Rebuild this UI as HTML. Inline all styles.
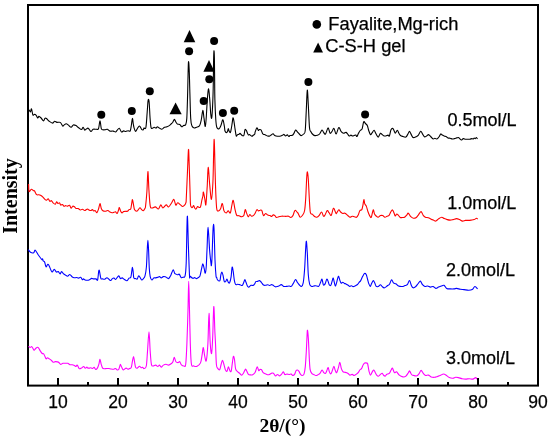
<!DOCTYPE html>
<html><head><meta charset="utf-8"><style>
html,body{margin:0;padding:0;background:#fff;}
body{width:550px;height:438px;overflow:hidden;position:relative;}
svg{position:absolute;left:0;top:0;}
.sans{font-family:"Liberation Sans",Arial,sans-serif;}
.serif{font-family:"Liberation Serif","Times New Roman",serif;font-weight:bold;}
</style></head><body>
<svg width="550" height="438" viewBox="0 0 550 438">
<rect x="28" y="5" width="510" height="380.6" fill="none" stroke="#000" stroke-width="2"/>
<path d="M58.0 385.6V378.0 M88.0 385.6V382.0 M118.0 385.6V378.0 M148.0 385.6V382.0 M178.0 385.6V378.0 M208.0 385.6V382.0 M238.0 385.6V378.0 M268.0 385.6V382.0 M298.0 385.6V378.0 M328.0 385.6V382.0 M358.0 385.6V378.0 M388.0 385.6V382.0 M418.0 385.6V378.0 M448.0 385.6V382.0 M478.0 385.6V378.0 M508.0 385.6V382.0" stroke="#000" stroke-width="2" fill="none"/>
<path d="M29.10 109.80C29.32 110.17 30.00 112.15 30.40 112.00C30.80 111.85 31.08 108.40 31.50 108.90C31.92 109.40 32.40 114.12 32.90 115.00C33.40 115.88 33.95 114.15 34.50 114.20C35.05 114.25 35.65 114.67 36.20 115.30C36.75 115.93 37.35 117.82 37.80 118.00C38.25 118.18 38.35 116.40 38.90 116.40C39.45 116.40 40.33 117.23 41.10 118.00C41.87 118.77 42.87 120.95 43.50 121.00C44.13 121.05 44.40 118.72 44.90 118.30C45.40 117.88 45.77 118.00 46.50 118.50C47.23 119.00 48.30 120.53 49.30 121.30C50.30 122.07 51.60 123.10 52.50 123.10C53.40 123.10 53.97 121.42 54.70 121.30C55.43 121.18 55.98 122.22 56.90 122.40C57.82 122.58 59.23 121.80 60.20 122.40C61.17 123.00 62.07 125.55 62.70 126.00C63.33 126.45 63.42 125.47 64.00 125.10C64.58 124.73 65.47 123.80 66.20 123.80C66.93 123.80 67.58 124.52 68.40 125.10C69.22 125.68 70.28 127.33 71.10 127.30C71.92 127.27 72.48 125.18 73.30 124.90C74.12 124.62 75.10 125.12 76.00 125.60C76.90 126.08 77.78 127.15 78.70 127.80C79.62 128.45 80.77 129.58 81.50 129.50C82.23 129.42 82.57 127.22 83.10 127.30C83.63 127.38 84.22 129.67 84.70 130.00C85.18 130.33 85.42 129.60 86.00 129.30C86.58 129.00 87.38 127.83 88.20 128.20C89.02 128.57 90.08 131.32 90.90 131.50C91.72 131.68 92.18 129.67 93.10 129.30C94.02 128.93 95.50 129.40 96.40 129.30C97.30 129.20 97.90 130.10 98.50 128.70C99.10 127.30 99.53 120.90 100.00 120.90C100.47 120.90 100.82 127.22 101.30 128.70C101.78 130.18 102.27 129.62 102.90 129.80C103.53 129.98 104.37 129.88 105.10 129.80C105.83 129.72 106.48 129.08 107.30 129.30C108.12 129.52 109.00 130.80 110.00 131.10C111.00 131.40 112.38 130.95 113.30 131.10C114.22 131.25 114.87 132.12 115.50 132.00C116.13 131.88 116.47 131.03 117.10 130.40C117.73 129.77 118.57 127.93 119.30 128.20C120.03 128.47 120.78 131.55 121.50 132.00C122.22 132.45 122.88 130.98 123.60 130.90C124.32 130.82 125.07 131.53 125.80 131.50C126.53 131.47 127.27 130.80 128.00 130.70C128.73 130.60 129.63 131.85 130.20 130.90C130.77 129.95 131.03 127.08 131.40 125.00C131.77 122.92 132.08 118.57 132.40 118.40C132.72 118.23 133.03 122.47 133.30 124.00C133.57 125.53 133.62 126.35 134.00 127.60C134.38 128.85 135.05 131.32 135.60 131.50C136.15 131.68 136.65 129.62 137.30 128.70C137.95 127.78 138.78 125.90 139.50 126.00C140.22 126.10 140.97 128.67 141.60 129.30C142.23 129.93 142.90 130.02 143.30 129.80C143.70 129.58 143.57 128.42 144.00 128.00C144.43 127.58 145.37 129.97 145.90 127.30C146.43 124.63 146.83 116.47 147.20 112.00C147.57 107.53 147.78 102.22 148.10 100.50C148.42 98.78 148.77 98.72 149.10 101.70C149.43 104.68 149.78 114.13 150.10 118.40C150.42 122.67 150.63 125.65 151.00 127.30C151.37 128.95 151.77 128.30 152.30 128.30C152.83 128.30 153.57 127.35 154.20 127.30C154.83 127.25 155.57 128.10 156.10 128.00C156.63 127.90 156.87 126.70 157.40 126.70C157.93 126.70 158.55 127.58 159.30 128.00C160.05 128.42 161.03 129.32 161.90 129.20C162.77 129.08 163.65 127.72 164.50 127.30C165.35 126.88 166.15 127.02 167.00 126.70C167.85 126.38 168.85 125.93 169.60 125.40C170.35 124.87 170.97 124.03 171.50 123.50C172.03 122.97 172.32 122.88 172.80 122.20C173.28 121.52 173.87 119.40 174.40 119.40C174.93 119.40 175.48 121.42 176.00 122.20C176.52 122.98 176.87 123.72 177.50 124.10C178.13 124.48 179.10 124.07 179.80 124.50C180.50 124.93 181.07 126.55 181.70 126.70C182.33 126.85 182.95 125.72 183.60 125.40C184.25 125.08 185.07 125.97 185.60 124.80C186.13 123.63 186.47 123.37 186.80 118.40C187.13 113.43 187.33 104.23 187.60 95.00C187.87 85.77 188.13 67.17 188.40 63.00C188.67 58.83 188.97 65.50 189.20 70.00C189.43 74.50 189.55 81.93 189.80 90.00C190.05 98.07 190.33 112.40 190.70 118.40C191.07 124.40 191.40 124.40 192.00 126.00C192.60 127.60 193.55 127.80 194.30 128.00C195.05 128.20 195.63 127.58 196.50 127.20C197.37 126.82 198.70 126.95 199.50 125.70C200.30 124.45 200.75 122.25 201.30 119.70C201.85 117.15 202.35 110.65 202.80 110.40C203.25 110.15 203.58 115.52 204.00 118.20C204.42 120.88 204.92 126.75 205.30 126.50C205.68 126.25 205.95 121.35 206.30 116.70C206.65 112.05 207.02 103.25 207.40 98.60C207.78 93.95 208.20 88.55 208.60 88.80C209.00 89.05 209.43 95.83 209.80 100.10C210.17 104.37 210.45 111.63 210.80 114.40C211.15 117.17 211.52 120.33 211.90 116.70C212.28 113.07 212.82 102.05 213.10 92.60C213.38 83.15 213.45 66.97 213.60 60.00C213.75 53.03 213.87 51.13 214.00 50.80C214.13 50.47 214.30 54.05 214.40 58.00C214.50 61.95 214.52 67.48 214.60 74.50C214.68 81.52 214.70 92.57 214.90 100.10C215.10 107.63 215.48 115.18 215.80 119.70C216.12 124.22 216.25 125.70 216.80 127.20C217.35 128.70 218.38 129.07 219.10 128.70C219.82 128.33 220.47 126.50 221.10 125.00C221.73 123.50 222.35 119.45 222.90 119.70C223.45 119.95 224.05 124.62 224.40 126.50C224.75 128.38 224.63 129.98 225.00 131.00C225.37 132.02 226.17 132.57 226.60 132.60C227.03 132.63 227.32 131.87 227.60 131.20C227.88 130.53 228.03 128.60 228.30 128.60C228.57 128.60 228.85 130.55 229.20 131.20C229.55 131.85 230.03 133.03 230.40 132.50C230.77 131.97 231.10 129.60 231.40 128.00C231.70 126.40 231.93 124.60 232.20 122.90C232.47 121.20 232.70 118.02 233.00 117.80C233.30 117.58 233.68 119.90 234.00 121.60C234.32 123.30 234.58 125.87 234.90 128.00C235.22 130.13 235.63 133.02 235.90 134.40C236.17 135.78 236.23 136.25 236.50 136.30C236.77 136.35 237.12 135.02 237.50 134.70C237.88 134.38 238.38 134.62 238.80 134.40C239.22 134.18 239.58 133.35 240.00 133.40C240.42 133.45 240.87 134.32 241.30 134.70C241.73 135.08 242.17 135.58 242.60 135.70C243.03 135.82 243.53 136.25 243.90 135.40C244.27 134.55 244.57 131.62 244.80 130.60C245.03 129.58 245.03 129.30 245.30 129.30C245.57 129.30 246.05 129.97 246.40 130.60C246.75 131.23 247.07 132.37 247.40 133.10C247.73 133.83 248.03 134.77 248.40 135.00C248.77 135.23 249.23 134.43 249.60 134.50C249.97 134.57 250.22 135.10 250.60 135.40C250.98 135.70 251.42 136.37 251.90 136.30C252.38 136.23 253.02 135.37 253.50 135.00C253.98 134.63 254.53 134.57 254.80 134.10C255.07 133.63 254.75 133.25 255.10 132.20C255.45 131.15 256.35 128.08 256.90 127.80C257.45 127.52 257.97 130.22 258.40 130.50C258.83 130.78 259.05 129.58 259.50 129.50C259.95 129.42 260.57 129.28 261.10 130.00C261.63 130.72 262.25 133.07 262.70 133.80C263.15 134.53 263.33 134.22 263.80 134.40C264.27 134.58 264.87 134.63 265.50 134.90C266.13 135.17 266.88 135.82 267.60 136.00C268.32 136.18 269.15 136.22 269.80 136.00C270.45 135.78 270.95 135.07 271.50 134.70C272.05 134.33 272.57 133.67 273.10 133.80C273.63 133.93 273.97 135.10 274.70 135.50C275.43 135.90 276.50 136.12 277.50 136.20C278.50 136.28 279.80 136.22 280.70 136.00C281.60 135.78 282.35 135.17 282.90 134.90C283.45 134.63 283.55 134.22 284.00 134.40C284.45 134.58 285.05 135.92 285.60 136.00C286.15 136.08 286.75 134.82 287.30 134.90C287.85 134.98 288.45 136.38 288.90 136.50C289.35 136.62 289.42 135.80 290.00 135.60C290.58 135.40 291.73 135.70 292.40 135.30C293.07 134.90 293.47 134.08 294.00 133.20C294.53 132.32 295.07 130.27 295.60 130.00C296.13 129.73 296.58 130.93 297.20 131.60C297.82 132.27 298.63 133.33 299.30 134.00C299.97 134.67 300.48 135.60 301.20 135.60C301.92 135.60 302.93 134.80 303.60 134.00C304.27 133.20 304.75 134.80 305.20 130.80C305.65 126.80 305.95 116.80 306.30 110.00C306.65 103.20 306.95 90.53 307.30 90.00C307.65 89.47 308.03 100.53 308.40 106.80C308.77 113.07 309.10 123.47 309.50 127.60C309.90 131.73 310.32 130.53 310.80 131.60C311.28 132.67 311.73 133.33 312.40 134.00C313.07 134.67 314.00 135.38 314.80 135.60C315.60 135.82 316.40 135.57 317.20 135.30C318.00 135.03 318.80 134.88 319.60 134.00C320.40 133.12 321.33 130.27 322.00 130.00C322.67 129.73 323.02 131.73 323.60 132.40C324.18 133.07 324.75 134.75 325.50 134.00C326.25 133.25 327.35 128.03 328.10 127.90C328.85 127.77 329.37 132.58 330.00 133.20C330.63 133.82 331.23 132.40 331.90 131.60C332.57 130.80 333.30 128.00 334.00 128.40C334.70 128.80 335.30 134.13 336.10 134.00C336.90 133.87 337.95 128.00 338.80 127.60C339.65 127.20 340.40 130.67 341.20 131.60C342.00 132.53 342.80 133.07 343.60 133.20C344.40 133.33 345.33 132.27 346.00 132.40C346.67 132.53 347.05 133.40 347.60 134.00C348.15 134.60 348.75 135.82 349.30 136.00C349.85 136.18 350.37 135.10 350.90 135.10C351.43 135.10 351.95 135.93 352.50 136.00C353.05 136.07 353.65 135.65 354.20 135.50C354.75 135.35 355.35 134.93 355.80 135.10C356.25 135.27 356.45 136.80 356.90 136.50C357.35 136.20 357.95 134.30 358.50 133.30C359.05 132.30 359.60 131.23 360.20 130.50C360.80 129.77 361.52 130.35 362.10 128.90C362.68 127.45 363.15 122.70 363.70 121.80C364.25 120.90 364.80 122.87 365.40 123.50C366.00 124.13 366.75 124.43 367.30 125.60C367.85 126.77 368.17 128.98 368.70 130.50C369.23 132.02 369.92 134.33 370.50 134.70C371.08 135.07 371.60 133.43 372.20 132.70C372.80 131.97 373.47 130.12 374.10 130.30C374.73 130.48 375.32 132.67 376.00 133.80C376.68 134.93 377.47 137.18 378.20 137.10C378.93 137.02 379.77 133.75 380.40 133.30C381.03 132.85 381.47 133.98 382.00 134.40C382.53 134.82 382.97 135.53 383.60 135.80C384.23 136.07 385.07 136.12 385.80 136.00C386.53 135.88 387.40 135.10 388.00 135.10C388.60 135.10 388.92 136.85 389.40 136.00C389.88 135.15 390.35 131.27 390.90 130.00C391.45 128.73 392.18 128.32 392.70 128.40C393.22 128.48 393.57 129.68 394.00 130.50C394.43 131.32 394.75 133.33 395.30 133.30C395.85 133.27 396.70 130.30 397.30 130.30C397.90 130.30 398.37 132.43 398.90 133.30C399.43 134.17 399.83 134.97 400.50 135.50C401.17 136.03 402.02 136.23 402.90 136.50C403.78 136.77 404.95 137.53 405.80 137.10C406.65 136.67 407.38 134.87 408.00 133.90C408.62 132.93 408.95 131.18 409.50 131.30C410.05 131.42 410.70 133.57 411.30 134.60C411.90 135.63 412.32 137.13 413.10 137.50C413.88 137.87 415.15 137.15 416.00 136.80C416.85 136.45 417.42 136.32 418.20 135.40C418.98 134.48 419.98 131.55 420.70 131.30C421.42 131.05 421.88 132.98 422.50 133.90C423.12 134.82 423.73 136.43 424.40 136.80C425.07 137.17 425.83 136.47 426.50 136.10C427.17 135.73 427.82 134.63 428.40 134.60C428.98 134.57 429.47 135.42 430.00 135.90C430.53 136.38 431.05 136.98 431.60 137.50C432.15 138.02 432.75 138.87 433.30 139.00C433.85 139.13 434.37 138.30 434.90 138.30C435.43 138.30 435.95 139.07 436.50 139.00C437.05 138.93 437.68 138.42 438.20 137.90C438.72 137.38 439.18 136.57 439.60 135.90C440.02 135.23 440.27 134.05 440.70 133.90C441.13 133.75 441.62 134.67 442.20 135.00C442.78 135.33 443.50 135.60 444.20 135.90C444.90 136.20 445.77 136.47 446.40 136.80C447.03 137.13 447.37 137.65 448.00 137.90C448.63 138.15 449.47 138.12 450.20 138.30C450.93 138.48 451.68 138.95 452.40 139.00C453.12 139.05 453.78 138.78 454.50 138.60C455.22 138.42 456.05 138.08 456.70 137.90C457.35 137.72 457.90 137.38 458.40 137.50C458.90 137.62 459.20 138.18 459.70 138.60C460.20 139.02 460.80 140.00 461.40 140.00C462.00 140.00 462.62 138.73 463.30 138.60C463.98 138.47 464.78 139.10 465.50 139.20C466.22 139.30 466.88 139.20 467.60 139.20C468.32 139.20 469.07 139.30 469.80 139.20C470.53 139.10 471.45 138.63 472.00 138.60C472.55 138.57 472.73 139.08 473.10 139.00C473.47 138.92 473.83 138.17 474.20 138.10C474.57 138.03 474.93 138.70 475.30 138.60C475.67 138.50 476.03 137.43 476.40 137.50C476.77 137.57 477.32 138.75 477.50 139.00" fill="none" stroke="#000" stroke-width="1.1" stroke-linejoin="round"/>
<path d="M28.60 184.00C28.68 185.25 28.65 190.62 29.10 191.50C29.55 192.38 30.57 189.43 31.30 189.30C32.03 189.17 32.97 190.43 33.50 190.70C34.03 190.97 33.97 190.23 34.50 190.90C35.03 191.57 35.97 194.07 36.70 194.70C37.43 195.33 38.27 194.60 38.90 194.70C39.53 194.80 39.87 194.93 40.50 195.30C41.13 195.67 41.97 196.22 42.70 196.90C43.43 197.58 44.27 198.85 44.90 199.40C45.53 199.95 45.95 200.30 46.50 200.20C47.05 200.10 47.65 198.62 48.20 198.80C48.75 198.98 49.25 200.98 49.80 201.30C50.35 201.62 50.95 200.43 51.50 200.70C52.05 200.97 52.47 202.32 53.10 202.90C53.73 203.48 54.72 204.38 55.30 204.20C55.88 204.02 56.15 201.92 56.60 201.80C57.05 201.68 57.50 203.32 58.00 203.50C58.50 203.68 59.15 202.63 59.60 202.90C60.05 203.17 60.23 204.83 60.70 205.10C61.17 205.37 61.85 204.32 62.40 204.50C62.95 204.68 63.47 206.02 64.00 206.20C64.53 206.38 65.05 205.60 65.60 205.60C66.15 205.60 66.65 206.25 67.30 206.20C67.95 206.15 68.87 204.98 69.50 205.30C70.13 205.62 70.57 207.95 71.10 208.10C71.63 208.25 72.15 206.43 72.70 206.20C73.25 205.97 73.85 206.33 74.40 206.70C74.95 207.07 75.37 208.08 76.00 208.40C76.63 208.72 77.47 208.33 78.20 208.60C78.93 208.87 79.68 209.90 80.40 210.00C81.12 210.10 81.78 209.12 82.50 209.20C83.22 209.28 83.97 210.50 84.70 210.50C85.43 210.50 86.32 209.38 86.90 209.20C87.48 209.02 87.80 209.23 88.20 209.40C88.60 209.57 88.85 210.02 89.30 210.20C89.75 210.38 90.37 210.60 90.90 210.50C91.43 210.40 92.05 209.53 92.50 209.60C92.95 209.67 93.13 210.72 93.60 210.90C94.07 211.08 94.75 210.40 95.30 210.70C95.85 211.00 96.37 212.97 96.90 212.70C97.43 212.43 97.98 210.62 98.50 209.10C99.02 207.58 99.53 203.70 100.00 203.60C100.47 203.50 100.82 207.32 101.30 208.50C101.78 209.68 102.27 210.23 102.90 210.70C103.53 211.17 104.28 211.33 105.10 211.30C105.92 211.27 106.98 210.38 107.80 210.50C108.62 210.62 109.27 211.63 110.00 212.00C110.73 212.37 111.57 212.63 112.20 212.70C112.83 212.77 113.25 212.55 113.80 212.40C114.35 212.25 114.95 211.62 115.50 211.80C116.05 211.98 116.60 213.77 117.10 213.50C117.60 213.23 118.13 211.20 118.50 210.20C118.87 209.20 118.93 207.32 119.30 207.50C119.67 207.68 120.25 210.40 120.70 211.30C121.15 212.20 121.52 212.85 122.00 212.90C122.48 212.95 122.97 211.87 123.60 211.60C124.23 211.33 125.15 211.35 125.80 211.30C126.45 211.25 126.95 211.58 127.50 211.30C128.05 211.02 128.57 209.97 129.10 209.60C129.63 209.23 130.28 210.00 130.70 209.10C131.12 208.20 131.30 205.78 131.60 204.20C131.90 202.62 132.18 199.52 132.50 199.60C132.82 199.68 133.17 203.03 133.50 204.70C133.83 206.37 133.97 208.50 134.50 209.60C135.03 210.70 136.05 211.30 136.70 211.30C137.35 211.30 137.85 210.20 138.40 209.60C138.95 209.00 139.47 207.70 140.00 207.70C140.53 207.70 141.05 209.10 141.60 209.60C142.15 210.10 142.75 210.88 143.30 210.70C143.85 210.52 144.52 209.30 144.90 208.50C145.28 207.70 145.27 208.73 145.60 205.90C145.93 203.07 146.52 197.22 146.90 191.50C147.28 185.78 147.57 171.93 147.90 171.60C148.23 171.27 148.52 183.78 148.90 189.50C149.28 195.22 149.65 202.82 150.20 205.90C150.75 208.98 151.35 207.83 152.20 208.00C153.05 208.17 154.27 206.73 155.30 206.90C156.33 207.07 157.48 209.33 158.40 209.00C159.32 208.67 160.05 205.07 160.80 204.90C161.55 204.73 162.00 208.00 162.90 208.00C163.80 208.00 165.25 205.08 166.20 204.90C167.15 204.72 167.68 207.25 168.60 206.90C169.52 206.55 170.82 204.05 171.70 202.80C172.58 201.55 173.22 199.00 173.90 199.40C174.58 199.80 175.17 204.65 175.80 205.20C176.43 205.75 176.97 202.80 177.70 202.70C178.43 202.60 179.37 203.97 180.20 204.60C181.03 205.23 181.97 206.40 182.70 206.50C183.43 206.60 184.07 205.83 184.60 205.20C185.13 204.57 185.62 203.90 185.90 202.70C186.18 201.50 186.03 203.28 186.30 198.00C186.57 192.72 187.13 179.08 187.50 171.00C187.87 162.92 188.22 150.50 188.50 149.50C188.78 148.50 188.95 158.25 189.20 165.00C189.45 171.75 189.78 183.42 190.00 190.00C190.22 196.58 190.25 201.62 190.50 204.50C190.75 207.38 191.17 206.83 191.50 207.30C191.83 207.77 192.15 207.60 192.50 207.30C192.85 207.00 193.23 205.37 193.60 205.50C193.97 205.63 194.35 207.47 194.70 208.10C195.05 208.73 195.38 209.30 195.70 209.30C196.02 209.30 196.30 208.57 196.60 208.10C196.90 207.63 197.18 206.67 197.50 206.50C197.82 206.33 198.05 206.97 198.50 207.10C198.95 207.23 199.78 207.68 200.20 207.30C200.62 206.92 200.73 205.93 201.00 204.80C201.27 203.67 201.48 201.97 201.80 200.50C202.12 199.03 202.63 197.42 202.90 196.00C203.17 194.58 203.07 191.45 203.40 192.00C203.73 192.55 204.48 197.20 204.90 199.30C205.32 201.40 205.52 206.70 205.90 204.60C206.28 202.50 206.82 192.90 207.20 186.70C207.58 180.50 207.78 167.75 208.20 167.40C208.62 167.05 209.17 179.28 209.70 184.60C210.23 189.92 210.87 199.65 211.40 199.30C211.93 198.95 212.53 189.88 212.90 182.50C213.27 175.12 213.40 162.17 213.60 155.00C213.80 147.83 213.93 140.33 214.10 139.50C214.27 138.67 214.38 142.83 214.60 150.00C214.82 157.17 215.07 172.88 215.40 182.50C215.73 192.12 216.08 202.97 216.60 207.70C217.12 212.43 217.83 210.72 218.50 210.90C219.17 211.08 219.97 210.03 220.60 208.80C221.23 207.57 221.73 203.15 222.30 203.50C222.87 203.85 223.37 209.32 224.00 210.90C224.63 212.48 225.40 213.00 226.10 213.00C226.80 213.00 227.50 210.90 228.20 210.90C228.90 210.90 229.70 213.88 230.30 213.00C230.90 212.12 231.32 207.70 231.80 205.60C232.28 203.50 232.68 199.87 233.20 200.40C233.72 200.93 234.33 206.35 234.90 208.80C235.47 211.25 235.90 213.95 236.60 215.10C237.30 216.25 238.27 215.43 239.10 215.70C239.93 215.97 240.82 216.72 241.60 216.70C242.38 216.68 243.20 216.78 243.80 215.60C244.40 214.42 244.75 210.05 245.20 209.60C245.65 209.15 246.00 211.72 246.50 212.90C247.00 214.08 247.65 216.43 248.20 216.70C248.75 216.97 249.25 214.58 249.80 214.50C250.35 214.42 250.87 216.07 251.50 216.20C252.13 216.33 252.97 215.85 253.60 215.30C254.23 214.75 254.75 213.85 255.30 212.90C255.85 211.95 256.37 209.93 256.90 209.60C257.43 209.27 257.95 210.80 258.50 210.90C259.05 211.00 259.65 210.27 260.20 210.20C260.75 210.13 261.25 209.60 261.80 210.50C262.35 211.40 262.87 215.10 263.50 215.60C264.13 216.10 264.88 213.58 265.60 213.50C266.32 213.42 267.07 214.75 267.80 215.10C268.53 215.45 269.37 215.38 270.00 215.60C270.63 215.82 271.05 216.52 271.60 216.40C272.15 216.28 272.75 215.03 273.30 214.90C273.85 214.77 274.37 215.17 274.90 215.60C275.43 216.03 275.87 217.32 276.50 217.50C277.13 217.68 277.87 216.92 278.70 216.70C279.53 216.48 280.68 216.28 281.50 216.20C282.32 216.12 282.88 216.17 283.60 216.20C284.32 216.23 284.98 216.40 285.80 216.40C286.62 216.40 287.68 216.02 288.50 216.20C289.32 216.38 289.97 217.60 290.70 217.50C291.43 217.40 292.30 216.55 292.90 215.60C293.50 214.65 293.88 212.70 294.30 211.80C294.72 210.90 294.90 210.10 295.40 210.20C295.90 210.30 296.83 211.85 297.30 212.40C297.77 212.95 297.72 212.70 298.20 213.50C298.68 214.30 299.45 216.95 300.20 217.20C300.95 217.45 301.97 216.12 302.70 215.00C303.43 213.88 304.10 213.23 304.60 210.50C305.10 207.77 305.35 204.05 305.70 198.60C306.05 193.15 306.42 182.25 306.70 177.80C306.98 173.35 307.13 171.65 307.40 171.90C307.67 172.15 307.97 174.60 308.30 179.30C308.63 184.00 309.05 194.53 309.40 200.10C309.75 205.67 309.92 210.35 310.40 212.70C310.88 215.05 311.60 213.57 312.30 214.20C313.00 214.83 313.85 216.00 314.60 216.50C315.35 217.00 316.07 217.33 316.80 217.20C317.53 217.07 318.20 216.57 319.00 215.70C319.80 214.83 320.85 211.92 321.60 212.00C322.35 212.08 322.93 215.70 323.50 216.20C324.07 216.70 324.38 215.95 325.00 215.00C325.62 214.05 326.53 210.88 327.20 210.50C327.87 210.12 328.33 211.90 329.00 212.70C329.67 213.50 330.47 216.03 331.20 215.30C331.93 214.57 332.70 208.85 333.40 208.30C334.10 207.75 334.90 211.13 335.40 212.00C335.90 212.87 335.83 213.87 336.40 213.50C336.97 213.13 338.10 210.05 338.80 209.80C339.50 209.55 339.93 211.38 340.60 212.00C341.27 212.62 342.07 213.30 342.80 213.50C343.53 213.70 344.13 212.83 345.00 213.20C345.87 213.57 347.17 215.02 348.00 215.70C348.83 216.38 349.30 217.22 350.00 217.30C350.70 217.38 351.47 216.30 352.20 216.20C352.93 216.10 353.68 216.52 354.40 216.70C355.12 216.88 355.87 217.57 356.50 217.30C357.13 217.03 357.65 216.20 358.20 215.10C358.75 214.00 359.20 211.62 359.80 210.70C360.40 209.78 361.28 210.50 361.80 209.60C362.32 208.70 362.55 206.97 362.90 205.30C363.25 203.63 363.60 199.88 363.90 199.60C364.20 199.32 364.28 202.47 364.70 203.60C365.12 204.73 365.85 205.03 366.40 206.40C366.95 207.77 367.47 210.27 368.00 211.80C368.53 213.33 369.05 214.68 369.60 215.60C370.15 216.52 370.70 218.25 371.30 217.30C371.90 216.35 372.67 210.45 373.20 209.90C373.73 209.35 374.00 212.98 374.50 214.00C375.00 215.02 375.60 215.45 376.20 216.00C376.80 216.55 377.38 217.37 378.10 217.30C378.82 217.23 379.73 215.88 380.50 215.60C381.27 215.32 381.97 215.32 382.70 215.60C383.43 215.88 384.17 217.20 384.90 217.30C385.63 217.40 386.40 216.53 387.10 216.20C387.80 215.87 388.47 216.03 389.10 215.30C389.73 214.57 390.33 212.70 390.90 211.80C391.47 210.90 391.95 209.62 392.50 209.90C393.05 210.18 393.73 212.48 394.20 213.50C394.67 214.52 394.88 215.92 395.30 216.00C395.72 216.08 396.22 214.15 396.70 214.00C397.18 213.85 397.62 214.52 398.20 215.10C398.78 215.68 399.50 217.10 400.20 217.50C400.90 217.90 401.68 217.53 402.40 217.50C403.12 217.47 403.78 217.70 404.50 217.30C405.22 216.90 406.07 215.78 406.70 215.10C407.33 214.42 407.62 212.93 408.30 213.20C408.98 213.47 409.95 215.87 410.80 216.70C411.65 217.53 412.55 218.03 413.40 218.20C414.25 218.37 415.12 218.18 415.90 217.70C416.68 217.22 417.25 216.32 418.10 215.30C418.95 214.28 420.15 211.60 421.00 211.60C421.85 211.60 422.47 214.37 423.20 215.30C423.93 216.23 424.55 216.80 425.40 217.20C426.25 217.60 427.33 217.37 428.30 217.70C429.27 218.03 430.23 218.75 431.20 219.20C432.17 219.65 433.33 220.08 434.10 220.40C434.87 220.72 435.07 221.35 435.80 221.10C436.53 220.85 437.52 219.55 438.50 218.90C439.48 218.25 440.73 217.25 441.70 217.20C442.67 217.15 443.38 218.20 444.30 218.60C445.22 219.00 446.23 219.35 447.20 219.60C448.17 219.85 449.13 220.10 450.10 220.10C451.07 220.10 451.92 219.85 453.00 219.60C454.08 219.35 455.52 218.60 456.60 218.60C457.68 218.60 458.52 219.18 459.50 219.60C460.48 220.02 461.52 220.97 462.50 221.10C463.48 221.23 464.43 220.52 465.40 220.40C466.37 220.28 467.33 220.45 468.30 220.40C469.27 220.35 470.23 220.23 471.20 220.10C472.17 219.97 473.20 219.92 474.10 219.60C475.00 219.28 476.00 218.27 476.60 218.20C477.20 218.13 477.52 219.03 477.70 219.20" fill="none" stroke="#f00" stroke-width="1.1" stroke-linejoin="round"/>
<path d="M28.20 249.60C28.58 250.05 29.58 251.77 30.50 252.30C31.42 252.83 32.92 253.15 33.70 252.80C34.48 252.45 34.37 249.75 35.20 250.20C36.03 250.65 37.58 253.93 38.70 255.50C39.82 257.07 41.25 259.05 41.90 259.60C42.55 260.15 42.38 258.57 42.60 258.80C42.82 259.03 42.87 260.48 43.20 261.00C43.53 261.52 44.13 260.92 44.60 261.90C45.07 262.88 45.47 266.52 46.00 266.90C46.53 267.28 47.27 264.35 47.80 264.20C48.33 264.05 48.52 264.72 49.20 266.00C49.88 267.28 51.07 271.33 51.90 271.90C52.73 272.47 53.43 269.37 54.20 269.40C54.97 269.43 55.82 271.75 56.50 272.10C57.18 272.45 57.70 271.20 58.30 271.50C58.90 271.80 59.57 273.90 60.10 273.90C60.63 273.90 60.97 271.55 61.50 271.50C62.03 271.45 62.63 273.00 63.30 273.60C63.97 274.20 64.78 274.67 65.50 275.10C66.22 275.53 66.88 276.30 67.60 276.20C68.32 276.10 69.07 274.42 69.80 274.50C70.53 274.58 71.27 276.15 72.00 276.70C72.73 277.25 73.47 277.67 74.20 277.80C74.93 277.93 75.68 277.45 76.40 277.50C77.12 277.55 77.78 278.13 78.50 278.10C79.22 278.07 80.05 277.03 80.70 277.30C81.35 277.57 81.93 279.43 82.40 279.70C82.87 279.97 83.05 278.85 83.50 278.90C83.95 278.95 84.47 279.77 85.10 280.00C85.73 280.23 86.57 280.35 87.30 280.30C88.03 280.25 88.78 280.02 89.50 279.70C90.22 279.38 90.88 278.53 91.60 278.40C92.32 278.27 93.07 278.82 93.80 278.90C94.53 278.98 95.37 278.72 96.00 278.90C96.63 279.08 97.17 281.15 97.60 280.00C98.03 278.85 98.33 273.63 98.60 272.00C98.87 270.37 99.00 270.05 99.20 270.20C99.40 270.35 99.52 271.53 99.80 272.90C100.08 274.27 100.45 277.40 100.90 278.40C101.35 279.40 101.87 278.77 102.50 278.90C103.13 279.03 103.97 279.38 104.70 279.20C105.43 279.02 106.20 277.80 106.90 277.80C107.60 277.80 108.27 278.75 108.90 279.20C109.53 279.65 110.12 280.60 110.70 280.50C111.28 280.40 111.85 279.00 112.40 278.60C112.95 278.20 113.47 277.95 114.00 278.10C114.53 278.25 115.05 279.63 115.60 279.50C116.15 279.37 116.73 277.90 117.30 277.30C117.87 276.70 118.48 275.68 119.00 275.90C119.52 276.12 119.87 278.27 120.40 278.60C120.93 278.93 121.57 277.78 122.20 277.90C122.83 278.02 123.40 278.83 124.20 279.30C125.00 279.77 126.20 280.88 127.00 280.70C127.80 280.52 128.37 278.77 129.00 278.20C129.63 277.63 130.33 278.48 130.80 277.30C131.27 276.12 131.53 272.77 131.80 271.10C132.07 269.43 132.18 267.30 132.40 267.30C132.62 267.30 132.87 269.33 133.10 271.10C133.33 272.87 133.40 276.65 133.80 277.90C134.20 279.15 134.93 278.42 135.50 278.60C136.07 278.78 136.68 279.45 137.20 279.00C137.72 278.55 138.13 276.18 138.60 275.90C139.07 275.62 139.47 276.62 140.00 277.30C140.53 277.98 141.23 279.78 141.80 280.00C142.37 280.22 142.87 279.28 143.40 278.60C143.93 277.92 144.50 277.83 145.00 275.90C145.50 273.97 146.03 271.23 146.40 267.00C146.77 262.77 146.95 254.95 147.20 250.50C147.45 246.05 147.67 240.30 147.90 240.30C148.13 240.30 148.37 245.82 148.60 250.50C148.83 255.18 149.03 264.05 149.30 268.40C149.57 272.75 149.77 274.67 150.20 276.60C150.63 278.53 151.32 279.78 151.90 280.00C152.48 280.22 153.07 278.25 153.70 277.90C154.33 277.55 155.02 278.00 155.70 277.90C156.38 277.80 157.15 277.52 157.80 277.30C158.45 277.08 159.03 276.50 159.60 276.60C160.17 276.70 160.58 277.90 161.20 277.90C161.82 277.90 162.62 276.78 163.30 276.60C163.98 276.42 164.68 276.62 165.30 276.80C165.92 276.98 166.43 277.40 167.00 277.70C167.57 278.00 168.12 278.90 168.70 278.60C169.28 278.30 169.97 276.92 170.50 275.90C171.03 274.88 171.43 273.53 171.90 272.50C172.37 271.47 172.85 269.58 173.30 269.70C173.75 269.82 174.22 272.50 174.60 273.20C174.98 273.90 175.12 273.63 175.60 273.90C176.08 274.17 176.88 274.75 177.50 274.80C178.12 274.85 178.70 273.75 179.30 274.20C179.90 274.65 180.43 277.00 181.10 277.50C181.77 278.00 182.63 277.50 183.30 277.20C183.97 276.90 184.62 278.08 185.10 275.70C185.58 273.32 185.83 272.78 186.20 262.90C186.57 253.02 186.93 219.13 187.30 216.40C187.67 213.67 188.03 236.62 188.40 246.50C188.77 256.38 189.22 270.75 189.50 275.70C189.78 280.65 189.55 275.77 190.10 276.20C190.65 276.63 192.05 278.07 192.80 278.30C193.55 278.53 193.97 277.55 194.60 277.60C195.23 277.65 195.92 278.65 196.60 278.60C197.28 278.55 198.13 277.75 198.70 277.30C199.27 276.85 199.52 277.33 200.00 275.90C200.48 274.47 201.13 270.70 201.60 268.70C202.07 266.70 202.37 263.90 202.80 263.90C203.23 263.90 203.80 267.15 204.20 268.70C204.60 270.25 204.87 273.43 205.20 273.20C205.53 272.97 205.90 271.17 206.20 267.30C206.50 263.43 206.68 256.67 207.00 250.00C207.32 243.33 207.67 227.28 208.10 227.30C208.53 227.32 209.12 244.07 209.60 250.10C210.08 256.13 210.70 260.97 211.00 263.50C211.30 266.03 211.23 266.22 211.40 265.30C211.57 264.38 211.72 264.18 212.00 258.00C212.28 251.82 212.77 233.17 213.10 228.20C213.43 223.23 213.68 222.90 214.00 228.20C214.32 233.50 214.67 252.08 215.00 260.00C215.33 267.92 215.72 272.78 216.00 275.70C216.28 278.62 216.48 276.87 216.70 277.50C216.92 278.13 216.90 278.92 217.30 279.50C217.70 280.08 218.63 280.90 219.10 281.00C219.57 281.10 219.80 281.17 220.10 280.10C220.40 279.03 220.58 275.92 220.90 274.60C221.22 273.28 221.63 272.02 222.00 272.20C222.37 272.38 222.73 274.20 223.10 275.70C223.47 277.20 223.78 280.20 224.20 281.20C224.62 282.20 225.15 282.07 225.60 281.70C226.05 281.33 226.47 278.93 226.90 279.00C227.33 279.07 227.75 281.47 228.20 282.10C228.65 282.73 229.12 283.68 229.60 282.80C230.08 281.92 230.68 279.40 231.10 276.80C231.52 274.20 231.75 268.10 232.10 267.20C232.45 266.30 232.83 269.25 233.20 271.40C233.57 273.55 233.90 277.92 234.30 280.10C234.70 282.28 235.02 283.82 235.60 284.50C236.18 285.18 237.07 284.17 237.80 284.20C238.53 284.23 239.27 284.48 240.00 284.70C240.73 284.92 241.57 285.90 242.20 285.50C242.83 285.10 243.35 283.30 243.80 282.30C244.25 281.30 244.53 279.50 244.90 279.50C245.27 279.50 245.58 281.20 246.00 282.30C246.42 283.40 246.95 285.28 247.40 286.10C247.85 286.92 248.12 287.33 248.70 287.20C249.28 287.07 250.17 285.58 250.90 285.30C251.63 285.02 252.47 285.73 253.10 285.50C253.73 285.27 254.25 284.53 254.70 283.90C255.15 283.27 255.33 282.12 255.80 281.70C256.27 281.28 256.87 281.58 257.50 281.40C258.13 281.22 258.97 280.45 259.60 280.60C260.23 280.75 260.65 281.57 261.30 282.30C261.95 283.03 262.78 284.50 263.50 285.00C264.22 285.50 264.88 285.35 265.60 285.30C266.32 285.25 267.15 284.67 267.80 284.70C268.45 284.73 268.95 285.50 269.50 285.50C270.05 285.50 270.57 284.78 271.10 284.70C271.63 284.62 272.07 284.68 272.70 285.00C273.33 285.32 274.33 286.30 274.90 286.60C275.47 286.90 275.45 286.90 276.10 286.80C276.75 286.70 277.93 286.37 278.80 286.00C279.67 285.63 280.50 284.53 281.30 284.60C282.10 284.67 282.75 286.10 283.60 286.40C284.45 286.70 285.48 286.47 286.40 286.40C287.32 286.33 288.30 286.00 289.10 286.00C289.90 286.00 290.52 286.80 291.20 286.40C291.88 286.00 292.47 284.75 293.20 283.60C293.93 282.45 294.92 279.72 295.60 279.50C296.28 279.28 296.67 281.38 297.30 282.30C297.93 283.22 298.70 284.32 299.40 285.00C300.10 285.68 300.87 286.75 301.50 286.40C302.13 286.05 302.68 285.77 303.20 282.90C303.72 280.03 304.20 274.67 304.60 269.20C305.00 263.73 305.30 254.77 305.60 250.10C305.90 245.43 306.12 240.75 306.40 241.20C306.68 241.65 306.98 247.22 307.30 252.80C307.62 258.38 307.90 269.45 308.30 274.70C308.70 279.95 309.13 282.35 309.70 284.30C310.27 286.25 311.02 286.12 311.70 286.40C312.38 286.68 313.12 286.12 313.80 286.00C314.48 285.88 315.00 285.63 315.80 285.70C316.60 285.77 317.80 286.97 318.60 286.40C319.40 285.83 320.03 283.52 320.60 282.30C321.17 281.08 321.53 278.65 322.00 279.10C322.47 279.55 322.87 284.25 323.40 285.00C323.93 285.75 324.63 284.58 325.20 283.60C325.77 282.62 326.30 279.43 326.80 279.10C327.30 278.77 327.82 280.70 328.20 281.60C328.58 282.50 328.68 283.85 329.10 284.50C329.52 285.15 330.20 286.05 330.70 285.50C331.20 284.95 331.68 282.43 332.10 281.20C332.52 279.97 332.83 277.92 333.20 278.10C333.57 278.28 333.93 280.97 334.30 282.30C334.67 283.63 335.00 286.10 335.40 286.10C335.80 286.10 336.20 283.93 336.70 282.30C337.20 280.67 337.88 276.67 338.40 276.30C338.92 275.93 339.35 278.97 339.80 280.10C340.25 281.23 340.62 282.73 341.10 283.10C341.58 283.47 342.15 282.25 342.70 282.30C343.25 282.35 343.85 283.13 344.40 283.40C344.95 283.67 345.37 283.58 346.00 283.90C346.63 284.22 347.57 284.88 348.20 285.30C348.83 285.72 349.25 286.32 349.80 286.40C350.35 286.48 350.95 285.77 351.50 285.80C352.05 285.83 352.47 286.60 353.10 286.60C353.73 286.60 354.57 286.15 355.30 285.80C356.03 285.45 356.87 285.08 357.50 284.50C358.13 283.92 358.57 282.95 359.10 282.30C359.63 281.65 360.10 281.60 360.70 280.60C361.30 279.60 362.07 277.48 362.70 276.30C363.33 275.12 363.92 273.78 364.50 273.50C365.08 273.22 365.70 273.68 366.20 274.60C366.70 275.52 367.05 277.45 367.50 279.00C367.95 280.55 368.43 282.67 368.90 283.90C369.37 285.13 369.85 286.48 370.30 286.40C370.75 286.32 371.10 284.37 371.60 283.40C372.10 282.43 372.78 280.70 373.30 280.60C373.82 280.50 374.25 281.88 374.70 282.80C375.15 283.72 375.42 285.47 376.00 286.10C376.58 286.73 377.47 286.83 378.20 286.60C378.93 286.37 379.77 284.73 380.40 284.70C381.03 284.67 381.37 285.87 382.00 286.40C382.63 286.93 383.47 287.87 384.20 287.90C384.93 287.93 385.85 287.00 386.40 286.60C386.95 286.20 386.98 285.90 387.50 285.50C388.02 285.10 388.82 285.15 389.50 284.20C390.18 283.25 390.93 280.02 391.60 279.80C392.27 279.58 392.80 282.23 393.50 282.90C394.20 283.57 394.97 283.28 395.80 283.80C396.63 284.32 397.43 285.55 398.50 286.00C399.57 286.45 401.13 286.57 402.20 286.50C403.27 286.43 404.05 285.90 404.90 285.60C405.75 285.30 406.53 285.55 407.30 284.70C408.07 283.85 408.83 280.40 409.50 280.50C410.17 280.60 410.70 284.08 411.30 285.30C411.90 286.52 412.35 287.60 413.10 287.80C413.85 288.00 414.95 287.22 415.80 286.50C416.65 285.78 417.43 284.40 418.20 283.50C418.97 282.60 419.68 280.90 420.40 281.10C421.12 281.30 421.75 283.80 422.50 284.70C423.25 285.60 424.05 286.28 424.90 286.50C425.75 286.72 426.68 285.90 427.60 286.00C428.52 286.10 429.48 287.02 430.40 287.10C431.32 287.18 432.20 286.28 433.10 286.50C434.00 286.72 434.90 288.30 435.80 288.40C436.70 288.50 437.58 287.50 438.50 287.10C439.42 286.70 440.38 286.30 441.30 286.00C442.22 285.70 443.10 284.90 444.00 285.30C444.90 285.70 445.63 287.80 446.70 288.40C447.77 289.00 449.18 288.82 450.40 288.90C451.62 288.98 452.95 288.98 454.00 288.90C455.05 288.82 455.63 288.33 456.70 288.40C457.77 288.47 459.18 289.10 460.40 289.30C461.62 289.50 462.65 289.45 464.00 289.60C465.35 289.75 467.13 290.20 468.50 290.20C469.87 290.20 471.13 290.22 472.20 289.60C473.27 288.98 474.00 286.62 474.90 286.50C475.80 286.38 477.15 288.50 477.60 288.90" fill="none" stroke="#00f" stroke-width="1.1" stroke-linejoin="round"/>
<path d="M28.50 346.40C28.78 346.58 29.65 347.47 30.20 347.50C30.75 347.53 31.17 346.15 31.80 346.60C32.43 347.05 33.37 349.88 34.00 350.20C34.63 350.52 35.00 349.00 35.60 348.50C36.20 348.00 37.05 347.20 37.60 347.20C38.15 347.20 38.42 347.82 38.90 348.50C39.38 349.18 39.95 350.47 40.50 351.30C41.05 352.13 41.65 353.05 42.20 353.50C42.75 353.95 43.25 353.28 43.80 354.00C44.35 354.72 45.08 356.98 45.50 357.80C45.92 358.62 45.98 358.90 46.30 358.90C46.62 358.90 46.90 357.80 47.40 357.80C47.90 357.80 48.62 358.45 49.30 358.90C49.98 359.35 50.83 359.95 51.50 360.50C52.17 361.05 52.67 362.02 53.30 362.20C53.93 362.38 54.60 361.65 55.30 361.60C56.00 361.55 56.87 361.72 57.50 361.90C58.13 362.08 58.57 362.28 59.10 362.70C59.63 363.12 60.07 364.30 60.70 364.40C61.33 364.50 62.08 363.48 62.90 363.30C63.72 363.12 64.78 363.30 65.60 363.30C66.42 363.30 67.07 363.07 67.80 363.30C68.53 363.53 69.27 364.47 70.00 364.70C70.73 364.93 71.47 364.57 72.20 364.70C72.93 364.83 73.77 365.20 74.40 365.50C75.03 365.80 75.52 366.57 76.00 366.50C76.48 366.43 76.75 364.73 77.30 365.10C77.85 365.47 78.60 368.22 79.30 368.70C80.00 369.18 80.78 368.37 81.50 368.00C82.22 367.63 82.97 366.47 83.60 366.50C84.23 366.53 84.75 368.10 85.30 368.20C85.85 368.30 86.52 367.15 86.90 367.10C87.28 367.05 87.20 367.73 87.60 367.90C88.00 368.07 88.75 368.13 89.30 368.10C89.85 368.07 90.37 367.63 90.90 367.70C91.43 367.77 91.95 368.55 92.50 368.50C93.05 368.45 93.65 367.23 94.20 367.40C94.75 367.57 95.25 369.42 95.80 369.50C96.35 369.58 96.98 368.80 97.50 367.90C98.02 367.00 98.48 365.52 98.90 364.10C99.32 362.68 99.60 359.32 100.00 359.40C100.40 359.48 100.87 363.15 101.30 364.60C101.73 366.05 102.07 367.40 102.60 368.10C103.13 368.80 103.82 368.73 104.50 368.80C105.18 368.87 105.97 368.55 106.70 368.50C107.43 368.45 108.17 368.42 108.90 368.50C109.63 368.58 110.28 368.88 111.10 369.00C111.92 369.12 113.07 369.28 113.80 369.20C114.53 369.12 114.95 368.38 115.50 368.50C116.05 368.62 116.57 369.73 117.10 369.90C117.63 370.07 118.28 370.02 118.70 369.50C119.12 368.98 119.32 367.65 119.60 366.80C119.88 365.95 120.08 364.40 120.40 364.40C120.72 364.40 121.05 365.88 121.50 366.80C121.95 367.72 122.57 369.53 123.10 369.90C123.63 370.27 124.20 369.30 124.70 369.00C125.20 368.70 125.55 368.07 126.10 368.10C126.65 368.13 127.42 369.13 128.00 369.20C128.58 369.27 129.05 368.80 129.60 368.50C130.15 368.20 130.83 368.58 131.30 367.40C131.77 366.22 132.03 363.22 132.40 361.40C132.77 359.58 133.15 356.50 133.50 356.50C133.85 356.50 134.15 359.58 134.50 361.40C134.85 363.22 135.13 366.28 135.60 367.40C136.07 368.52 136.65 368.28 137.30 368.10C137.95 367.92 138.87 366.37 139.50 366.30C140.13 366.23 140.57 367.52 141.10 367.70C141.63 367.88 142.20 367.25 142.70 367.40C143.20 367.55 143.50 368.83 144.10 368.60C144.70 368.37 145.73 368.87 146.30 366.00C146.87 363.13 147.05 357.12 147.50 351.40C147.95 345.68 148.55 331.70 149.00 331.70C149.45 331.70 149.80 345.97 150.20 351.40C150.60 356.83 150.92 361.87 151.40 364.30C151.88 366.73 152.38 365.87 153.10 366.00C153.82 366.13 154.92 365.02 155.70 365.10C156.48 365.18 157.17 366.50 157.80 366.50C158.43 366.50 158.93 364.98 159.50 365.10C160.07 365.22 160.55 367.20 161.20 367.20C161.85 367.20 162.60 365.58 163.40 365.10C164.20 364.62 165.13 364.30 166.00 364.30C166.87 364.30 167.75 365.18 168.60 365.10C169.45 365.02 170.38 364.37 171.10 363.80C171.82 363.23 172.38 362.77 172.90 361.70C173.42 360.63 173.70 357.40 174.20 357.40C174.70 357.40 175.27 360.83 175.90 361.70C176.53 362.57 177.37 362.60 178.00 362.60C178.63 362.60 179.13 361.33 179.70 361.70C180.27 362.07 180.68 364.08 181.40 364.80C182.12 365.52 183.28 366.08 184.00 366.00C184.72 365.92 185.22 368.05 185.70 364.30C186.18 360.55 186.52 352.55 186.90 343.50C187.28 334.45 187.70 320.35 188.00 310.00C188.30 299.65 188.45 281.40 188.70 281.40C188.95 281.40 189.23 299.65 189.50 310.00C189.77 320.35 189.98 334.50 190.30 343.50C190.62 352.50 190.83 360.27 191.40 364.00C191.97 367.73 192.75 365.52 193.70 365.90C194.65 366.28 195.97 366.80 197.10 366.30C198.23 365.80 199.67 364.80 200.50 362.90C201.33 361.00 201.63 357.45 202.10 354.90C202.57 352.35 202.87 347.42 203.30 347.60C203.73 347.78 204.20 353.83 204.70 356.00C205.20 358.17 205.77 362.68 206.30 360.60C206.83 358.52 207.45 351.37 207.90 343.50C208.35 335.63 208.62 313.48 209.00 313.40C209.38 313.32 209.77 336.32 210.20 343.00C210.63 349.68 211.18 354.50 211.60 353.50C212.02 352.50 212.33 344.83 212.70 337.00C213.07 329.17 213.43 307.32 213.80 306.50C214.17 305.68 214.60 325.60 214.90 332.10C215.20 338.60 215.35 340.10 215.60 345.50C215.85 350.90 216.03 360.68 216.40 364.50C216.77 368.32 217.25 367.53 217.80 368.40C218.35 369.27 219.15 370.35 219.70 369.70C220.25 369.05 220.63 366.08 221.10 364.50C221.57 362.92 222.05 360.28 222.50 360.20C222.95 360.12 223.30 362.37 223.80 364.00C224.30 365.63 224.95 368.82 225.50 370.00C226.05 371.18 226.62 371.65 227.10 371.10C227.58 370.55 227.95 366.80 228.40 366.70C228.85 366.60 229.33 369.77 229.80 370.50C230.27 371.23 230.75 372.55 231.20 371.10C231.65 369.65 232.13 364.25 232.50 361.80C232.87 359.35 233.07 356.77 233.40 356.40C233.73 356.03 234.13 357.52 234.50 359.60C234.87 361.68 235.10 366.90 235.60 368.90C236.10 370.90 236.83 370.87 237.50 371.60C238.17 372.33 238.88 372.72 239.60 373.30C240.32 373.88 241.12 375.20 241.80 375.10C242.48 375.00 243.10 373.68 243.70 372.70C244.30 371.72 244.90 369.47 245.40 369.20C245.90 368.93 246.20 370.23 246.70 371.10C247.20 371.97 247.77 373.77 248.40 374.40C249.03 375.03 249.78 374.85 250.50 374.90C251.22 374.95 251.97 375.07 252.70 374.70C253.43 374.33 254.35 373.48 254.90 372.70C255.45 371.92 255.60 371.00 256.00 370.00C256.40 369.00 256.85 366.62 257.30 366.70C257.75 366.78 258.25 370.03 258.70 370.50C259.15 370.97 259.53 369.63 260.00 369.50C260.47 369.37 260.98 369.17 261.50 369.70C262.02 370.23 262.47 372.02 263.10 372.70C263.73 373.38 264.57 373.47 265.30 373.80C266.03 374.13 266.78 374.60 267.50 374.70C268.22 374.80 268.92 374.65 269.60 374.40C270.28 374.15 270.97 373.40 271.60 373.20C272.23 373.00 272.75 372.75 273.40 373.20C274.05 373.65 274.82 375.68 275.50 375.90C276.18 376.12 276.82 374.50 277.50 374.50C278.18 374.50 278.92 375.97 279.60 375.90C280.28 375.83 280.97 374.78 281.60 374.10C282.23 373.42 282.87 371.73 283.40 371.80C283.93 371.87 284.18 374.12 284.80 374.50C285.42 374.88 286.37 374.10 287.10 374.10C287.83 374.10 288.52 374.50 289.20 374.50C289.88 374.50 290.57 373.93 291.20 374.10C291.83 374.27 292.42 375.50 293.00 375.50C293.58 375.50 294.20 374.90 294.70 374.10C295.20 373.30 295.55 371.38 296.00 370.70C296.45 370.02 296.90 369.88 297.40 370.00C297.90 370.12 298.50 370.72 299.00 371.40C299.50 372.08 299.87 373.42 300.40 374.10C300.93 374.78 301.60 375.50 302.20 375.50C302.80 375.50 303.48 375.58 304.00 374.10C304.52 372.62 304.92 370.37 305.30 366.60C305.68 362.83 306.02 356.53 306.30 351.50C306.58 346.47 306.80 339.93 307.00 336.40C307.20 332.87 307.27 329.83 307.50 330.30C307.73 330.77 308.10 334.52 308.40 339.20C308.70 343.88 309.02 353.38 309.30 358.40C309.58 363.42 309.68 366.80 310.10 369.30C310.52 371.80 311.18 372.53 311.80 373.40C312.42 374.27 313.12 374.15 313.80 374.50C314.48 374.85 315.22 375.45 315.90 375.50C316.58 375.55 317.22 375.15 317.90 374.80C318.58 374.45 319.30 374.20 320.00 373.40C320.70 372.60 321.47 370.12 322.10 370.00C322.73 369.88 323.23 372.13 323.80 372.70C324.37 373.27 325.00 373.73 325.50 373.40C326.00 373.07 326.35 371.68 326.80 370.70C327.25 369.72 327.78 367.35 328.20 367.50C328.62 367.65 328.85 370.55 329.30 371.60C329.75 372.65 330.37 374.07 330.90 373.80C331.43 373.53 332.00 371.27 332.50 370.00C333.00 368.73 333.43 366.12 333.90 366.20C334.37 366.28 334.83 369.42 335.30 370.50C335.77 371.58 336.17 373.23 336.70 372.70C337.23 372.17 337.97 369.02 338.50 367.30C339.03 365.58 339.43 362.22 339.90 362.40C340.37 362.58 340.80 366.87 341.30 368.40C341.80 369.93 342.37 370.97 342.90 371.60C343.43 372.23 343.87 372.02 344.50 372.20C345.13 372.38 346.05 372.43 346.70 372.70C347.35 372.97 347.85 373.40 348.40 373.80C348.95 374.20 349.37 375.00 350.00 375.10C350.63 375.20 351.52 374.33 352.20 374.40C352.88 374.47 353.47 375.50 354.10 375.50C354.73 375.50 355.32 374.87 356.00 374.40C356.68 373.93 357.57 373.43 358.20 372.70C358.83 371.97 359.25 370.68 359.80 370.00C360.35 369.32 360.95 369.42 361.50 368.60C362.05 367.78 362.57 366.02 363.10 365.10C363.63 364.18 364.07 363.43 364.70 363.10C365.33 362.77 366.40 362.95 366.90 363.10C367.40 363.25 367.33 362.58 367.70 364.00C368.07 365.42 368.63 369.75 369.10 371.60C369.57 373.45 369.95 375.10 370.50 375.10C371.05 375.10 371.85 372.45 372.40 371.60C372.95 370.75 373.35 369.90 373.80 370.00C374.25 370.10 374.62 371.35 375.10 372.20C375.58 373.05 376.15 374.43 376.70 375.10C377.25 375.77 377.77 376.32 378.40 376.20C379.03 376.08 379.87 374.88 380.50 374.40C381.13 373.92 381.65 373.12 382.20 373.30C382.75 373.48 383.25 375.05 383.80 375.50C384.35 375.95 385.05 376.17 385.50 376.00C385.95 375.83 385.87 374.95 386.50 374.50C387.13 374.05 388.53 374.05 389.30 373.30C390.07 372.55 390.57 370.85 391.10 370.00C391.63 369.15 391.95 367.75 392.50 368.20C393.05 368.65 393.73 372.10 394.40 372.70C395.07 373.30 395.68 371.40 396.50 371.80C397.32 372.20 398.23 374.25 399.30 375.10C400.37 375.95 401.85 376.68 402.90 376.90C403.95 377.12 404.68 377.10 405.60 376.40C406.52 375.70 407.73 373.62 408.40 372.70C409.07 371.78 409.08 370.60 409.60 370.90C410.12 371.20 410.80 373.73 411.50 374.50C412.20 375.27 412.90 375.28 413.80 375.50C414.70 375.72 415.98 376.17 416.90 375.80C417.82 375.43 418.60 374.20 419.30 373.30C420.00 372.40 420.40 370.35 421.10 370.40C421.80 370.45 422.75 372.75 423.50 373.60C424.25 374.45 424.78 375.25 425.60 375.50C426.42 375.75 427.48 374.87 428.40 375.10C429.32 375.33 430.05 376.53 431.10 376.90C432.15 377.27 433.63 377.38 434.70 377.30C435.77 377.22 436.58 376.70 437.50 376.40C438.42 376.10 439.20 375.90 440.20 375.50C441.20 375.10 442.45 374.00 443.50 374.00C444.55 374.00 445.53 374.90 446.50 375.50C447.47 376.10 448.23 377.15 449.30 377.60C450.37 378.05 451.85 378.25 452.90 378.20C453.95 378.15 454.68 377.40 455.60 377.30C456.52 377.20 457.33 377.37 458.40 377.60C459.47 377.83 460.80 378.45 462.00 378.70C463.20 378.95 464.38 379.10 465.60 379.10C466.82 379.10 468.08 378.70 469.30 378.70C470.52 378.70 471.85 379.28 472.90 379.10C473.95 378.92 474.93 377.60 475.60 377.60C476.27 377.60 476.68 378.85 476.90 379.10" fill="none" stroke="#f0f" stroke-width="1.1" stroke-linejoin="round"/>
<circle cx="101.3" cy="114.8" r="4.0"/>
<circle cx="131.8" cy="111.1" r="4.0"/>
<circle cx="149.8" cy="91.3" r="4.0"/>
<circle cx="189.1" cy="51.3" r="4.0"/>
<circle cx="203.7" cy="100.9" r="4.0"/>
<circle cx="209.3" cy="79.3" r="4.0"/>
<circle cx="214.1" cy="41.1" r="4.0"/>
<circle cx="222.9" cy="112.9" r="4.0"/>
<circle cx="234.2" cy="110.7" r="4.0"/>
<circle cx="308.4" cy="82" r="4.0"/>
<circle cx="365.1" cy="114.4" r="4.0"/>
<path d="M175.6 102.4L181.7 114.3L169.5 114.3Z"/>
<path d="M189.5 29.9L195.3 42.2L183.7 42.2Z"/>
<path d="M209.0 60.1L214.6 71.8L203.4 71.8Z"/>
<circle cx="316.8" cy="24.4" r="4.3"/>
<path d="M318.1 42.5L323 52.5L313.2 52.5Z"/>
<g class="sans" font-size="17.5" fill="#000" stroke="#000" stroke-width="0.25">
<text x="58.0" y="407.5" text-anchor="middle">10</text>
<text x="118.0" y="407.5" text-anchor="middle">20</text>
<text x="178.0" y="407.5" text-anchor="middle">30</text>
<text x="238.0" y="407.5" text-anchor="middle">40</text>
<text x="298.0" y="407.5" text-anchor="middle">50</text>
<text x="358.0" y="407.5" text-anchor="middle">60</text>
<text x="418.0" y="407.5" text-anchor="middle">70</text>
<text x="478.0" y="407.5" text-anchor="middle">80</text>
<text x="538.0" y="407.5" text-anchor="middle">90</text>
</g>
<g class="sans" font-size="18.3" fill="#000" stroke="#000" stroke-width="0.25">
<text x="328.3" y="30">Fayalite,Mg-rich</text>
<text x="325.3" y="52.3">C-S-H gel</text>
</g>
<g class="sans" font-size="18" fill="#000" stroke="#000" stroke-width="0.25">
<text x="447.4" y="125.9">0.5mol/L</text>
<text x="447.3" y="209">1.0mol/L</text>
<text x="446" y="276.2">2.0mol/L</text>
<text x="446" y="363.5">3.0mol/L</text>
</g>
<g class="serif" fill="#000">
<text x="282.5" y="432" font-size="19.5" text-anchor="middle">2θ/(°)</text>
<text transform="translate(16.6,196) rotate(-90)" font-size="20" text-anchor="middle">Intensity</text>
</g>
</svg>
</body></html>
